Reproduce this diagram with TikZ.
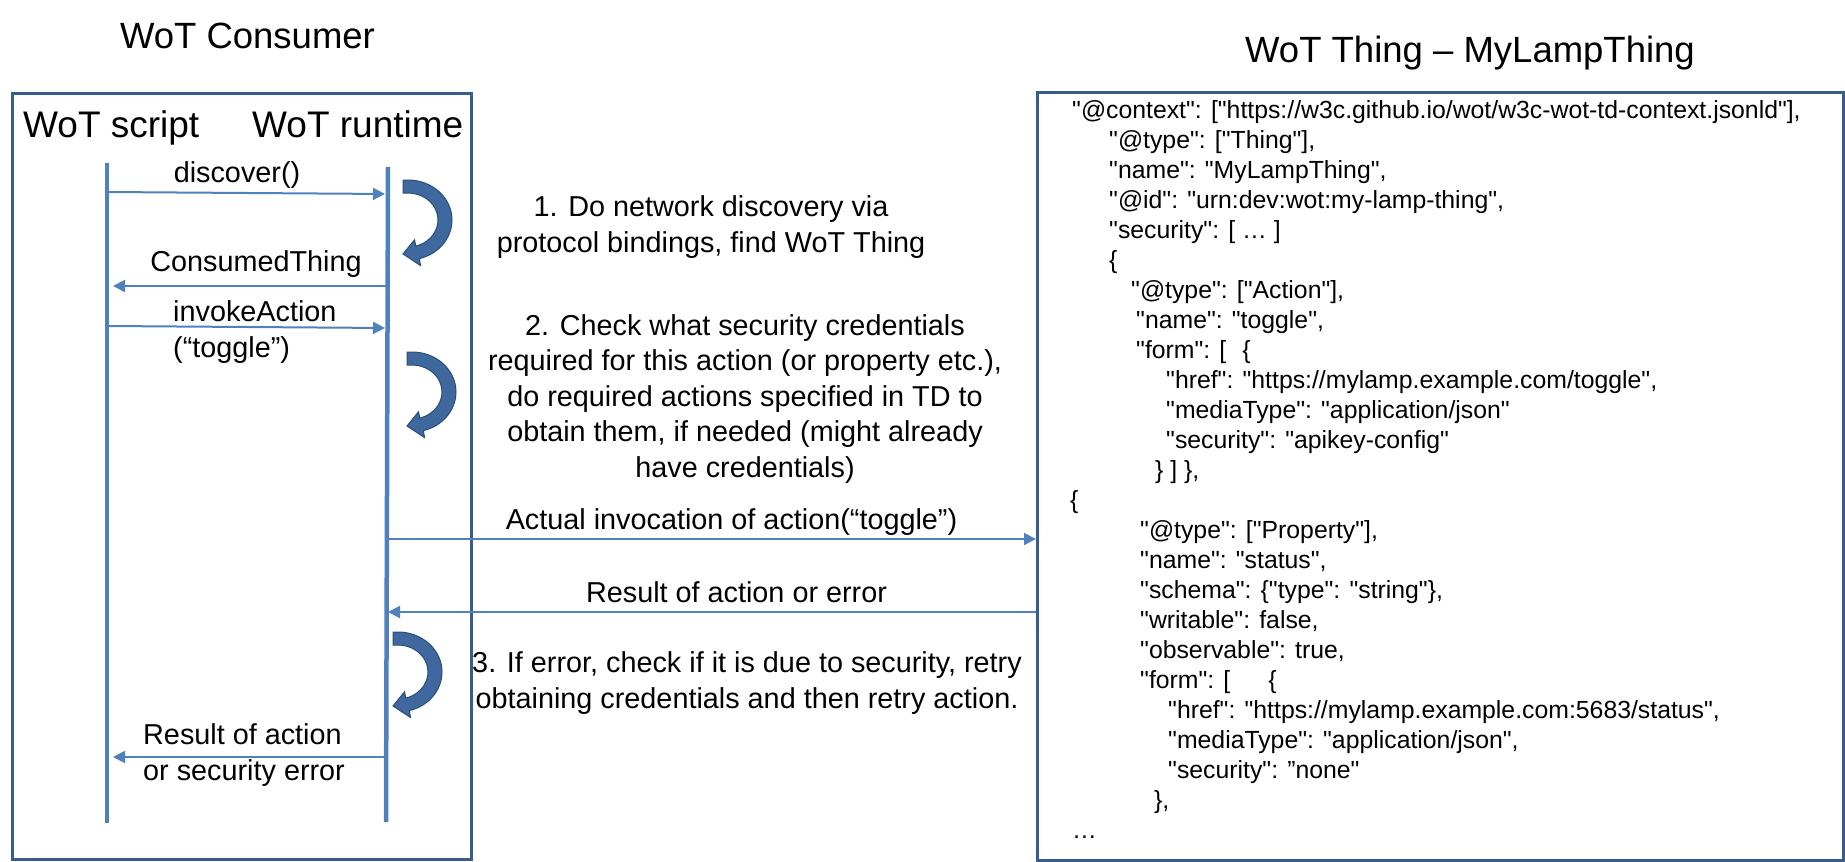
\documentclass[tikz,border=0pt]{standalone}
\usepackage{fontspec}
\setmainfont{Liberation Sans}
\newfontfamily\jsonfont[Ligatures=TeXOff]{Liberation Sans}
\usetikzlibrary{arrows.meta}
\usepackage{xcolor}
\definecolor{lineblue}{RGB}{79,129,189}
\definecolor{boxblue}{RGB}{56,93,138}
\definecolor{bendblue}{RGB}{62,104,158}
\definecolor{benddark}{RGB}{44,77,122}

\begin{document}
\begin{tikzpicture}[x=1pt,y=-1pt,
  frame/.style={draw=boxblue,line width=3pt,inner sep=0,anchor=north west},
  life/.style={draw=lineblue,line width=4.5pt},
  msg/.style={draw=lineblue,line width=2pt,-{Triangle[length=12pt,width=12pt]}},
  title/.style={font=\fontsize{36.5}{44}\selectfont,inner sep=0,anchor=base},
  role/.style={font=\fontsize{37}{44}\selectfont,inner sep=0,anchor=base west},
  lbl/.style={font=\fontsize{28.8}{35.5}\selectfont,inner sep=0,anchor=base},
  json/.style={font=\jsonfont\fontsize{24.8}{30}\selectfont,inner sep=0,align=left,anchor=base west},
  turn arrow/.pic={
    \filldraw[fill=bendblue,draw=benddark,line width=1pt] (0,0) -- (5,0)
      arc[start angle=-90,end angle=75,x radius=44,y radius=40]
      -- (17.5,85.5) -- (0,74) -- (11.5,59.8) -- (12.76,66.08)
      arc[start angle=75,end angle=-90,x radius=30,y radius=27]
      -- (0,13) -- cycle;
  }
  ]
\useasboundingbox (0,0) rectangle (1845,862);
% titles
\node[title] (tcons) at (247.5,48) {WoT Consumer};
\node[title] (tthing) at (1470,62) {WoT Thing – MyLampThing};
% boxes
\node[frame,minimum width=459pt,minimum height=766pt] (cons) at (11,92) {};
\node[frame,minimum width=806pt,minimum height=768pt] (td) at (1036,91) {};
\node[role] (rscript) at (23,137) {WoT script};
\node[role] (rrun) at (252,137) {WoT runtime};
% lifelines
\coordinate (script) at (107,163);
\coordinate (scriptend) at (107,823);
\coordinate (runtime) at (388,167);
\coordinate (runtimeend) at (386,822);
\draw[life] (script) -- (scriptend);
\draw[life] (runtime) -- (runtimeend);
% messages
\draw[msg,shorten >=3pt] (script |- 0,192) -- (runtime |- 0,194);
\draw[msg,shorten >=6pt] (runtime |- 0,286) -- (script |- 0,286);
\draw[msg,shorten >=3pt] (script |- 0,326) -- (runtime |- 0,328);
\draw[msg] (runtime |- 0,539) -- (td.west |- 0,539);
\draw[msg] (td.west |- 0,612) -- (runtime |- 0,612);
\draw[msg,shorten >=6pt] (runtimeend |- 0,757) -- (script |- 0,757);
\node[lbl] (disc) at (237,182) {discover()};
\node[lbl] (cthing) at (256,271) {ConsumedThing};
\node[lbl,anchor=base west,align=left] (invoke) at (173,357) {invokeAction\\(“toggle”)};   % base = last line
\node[lbl,anchor=base west,align=left] (result) at (143,780) {Result of action\\or security error};
\node[lbl] (invoc) at (731.5,529) {Actual invocation of action(“toggle”)};
\node[lbl] (reply) at (736.5,602) {Result of action or error};
% steps
\pic (bend1) at (403,180) {turn arrow};
\pic (bend2) at (407,352) {turn arrow};
\pic (bend3) at (393,632) {turn arrow};
\node[lbl,align=center] (step1) at (711,252) {1. Do network discovery via\\protocol bindings, find WoT Thing};
\node[lbl,align=center] (step2) at (745,477) {2. Check what security credentials\\required for this action (or property etc.),\\do required actions specified in TD to\\obtain them, if needed (might already\\have credentials)};
\node[lbl,align=center] (step3) at (747,708) {3. If error, check if it is due to security, retry\\obtaining credentials and then retry action.};
% thing description
\node[json] (tdtext) at (1070,838) {%
\hspace*{2pt}"@context": ["https://w3c.github.io/wot/w3c-wot-td-context.jsonld"],\\
\hspace*{39pt}"@type": ["Thing"],\\
\hspace*{39pt}"name": "MyLampThing",\\
\hspace*{39pt}"@id": "urn:dev:wot:my-lamp-thing",\\
\hspace*{39pt}"security": [ … ]\\
\hspace*{39pt}\{\\
\hspace*{61pt}"@type": ["Action"],\\
\hspace*{66pt}"name": "toggle",\\
\hspace*{66pt}"form": [\hspace{16pt}\{\\
\hspace*{96pt}"href": "https://mylamp.example.com/toggle",\\
\hspace*{96pt}"mediaType": "application/json"\\
\hspace*{96pt}"security": "apikey-config"\\
\hspace*{85pt}\} ] \},\\
\hspace*{0pt}\{\\
\hspace*{70pt}"@type": ["Property"],\\
\hspace*{70pt}"name": "status",\\
\hspace*{70pt}"schema": \{"type": "string"\},\\
\hspace*{70pt}"writable": false,\\
\hspace*{70pt}"observable": true,\\
\hspace*{70pt}"form": [\hspace{38pt}\{\\
\hspace*{98pt}"href": "https://mylamp.example.com:5683/status",\\
\hspace*{98pt}"mediaType": "application/json",\\
\hspace*{98pt}"security": ”none"\\
\hspace*{84pt}\},\\
\hspace*{2pt}…};
\end{tikzpicture}
\end{document}
